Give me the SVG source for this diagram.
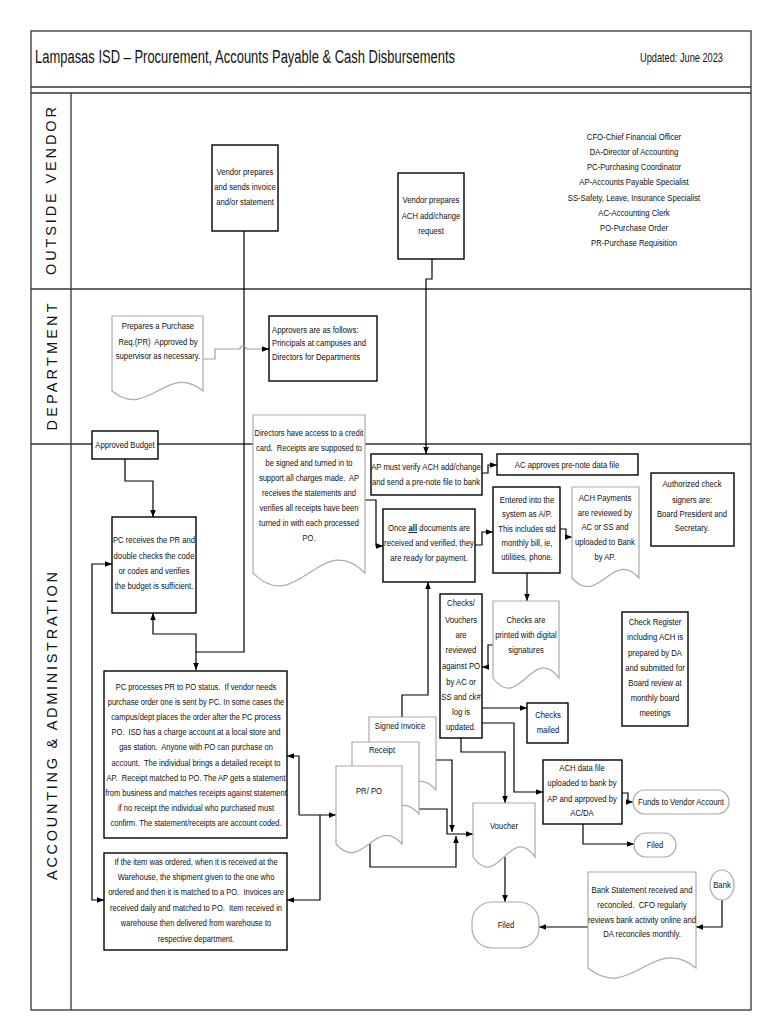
<svg xmlns="http://www.w3.org/2000/svg" width="768" height="1024" viewBox="0 0 768 1024">
<style>
.box{fill:#fff;stroke:#000;stroke-width:1.4}
.doc{fill:#fff;stroke:#aaaaaa;stroke-width:1.2}
.term{fill:#fff;stroke:#aaaaaa;stroke-width:1.2}
.ln{fill:none;stroke:#000;stroke-width:1.2}
.lng{fill:none;stroke:#a0a0a0;stroke-width:1.2}
.frame{fill:none;stroke:#333;stroke-width:1.3}
.t{font-family:"Liberation Sans",Arial,sans-serif;font-size:9.4px;fill:#111;text-anchor:middle;white-space:pre}
.tl{font-family:"Liberation Sans",Arial,sans-serif;font-size:9.4px;fill:#111;text-anchor:start;white-space:pre}
.lane{font-family:"Liberation Sans",Arial,sans-serif;font-size:14.5px;fill:#111;text-anchor:middle}
</style>
<defs>
<marker id="a" viewBox="0 0 10 8" refX="10" refY="4" markerWidth="7" markerHeight="5.6" orient="auto" markerUnits="userSpaceOnUse"><path d="M0,0 L10,4 L0,8 z" fill="#000"/></marker>
</defs>
<rect x="0" y="0" width="768" height="1024" fill="#fff"/>
<g id="frame">
<rect class="frame" x="31" y="31" width="720" height="979"/>
<line class="frame" x1="31" y1="87" x2="751" y2="87"/>
<line class="frame" x1="31" y1="93" x2="751" y2="93"/>
<line class="frame" x1="71" y1="93" x2="71" y2="1010"/>
<line class="frame" x1="31" y1="289" x2="751" y2="289"/>
<line class="frame" x1="31" y1="444" x2="751" y2="444"/>
<text x="35" y="63" font-family="Liberation Sans,Arial,sans-serif" font-size="18" fill="#111" textLength="420" lengthAdjust="spacingAndGlyphs">Lampasas ISD – Procurement, Accounts Payable &amp; Cash Disbursements</text>
<text x="640" y="62" font-family="Liberation Sans,Arial,sans-serif" font-size="13" fill="#111" textLength="83" lengthAdjust="spacingAndGlyphs">Updated: June 2023</text>
<text class="lane" transform="translate(56,191) rotate(-90)" x="0" y="0" textLength="168" lengthAdjust="spacing">OUTSIDE VENDOR</text>
<text class="lane" transform="translate(57,367) rotate(-90)" x="0" y="0" textLength="127" lengthAdjust="spacing">DEPARTMENT</text>
<text class="lane" transform="translate(57,726) rotate(-90)" x="0" y="0" textLength="308" lengthAdjust="spacing">ACCOUNTING &amp; ADMINISTRATION</text>
</g>
<g id="connectors">
<path class="ln" d="M244,231 V652 H196 V670" marker-end="url(#a)"/>
<path class="ln" d="M196,652 V634 H153 V613" marker-end="url(#a)"/>
<path class="ln" d="M432,259 V279 H426 V454" marker-end="url(#a)"/>
<path class="lng" d="M203,359 H215 V349 H240 A3,3 0 0 1 246,349 H269"/>
<path class="ln" d="M262,349 H269" marker-end="url(#a)"/>
<path class="ln" d="M125,459 V481 H153 V517" marker-end="url(#a)"/>
<path class="ln" d="M92,732 V564 H112" marker-end="url(#a)"/>
<path class="ln" d="M92,732 V900 H104" marker-end="url(#a)"/>
<path class="ln" d="M299,815 V756 H287" marker-end="url(#a)"/>
<path class="ln" d="M299,815 H336" marker-end="url(#a)"/>
<path class="ln" d="M320,815 V900 H287" marker-end="url(#a)"/>
<path class="ln" d="M365,500 H376 V546 H383" marker-end="url(#a)"/>
<path class="ln" d="M482,473 H488 V465 H497" marker-end="url(#a)"/>
<path class="ln" d="M475,545 H482 V532 H493" marker-end="url(#a)"/>
<path class="ln" d="M560,529 H566 V537 H572" marker-end="url(#a)"/>
<path class="ln" d="M527,573 V601" marker-end="url(#a)"/>
<path class="ln" d="M493,645 H488 V667 H482" marker-end="url(#a)"/>
<path class="ln" d="M402,717 V695 H428 V582" marker-end="url(#a)"/>
<path class="ln" d="M482,708 H527" marker-end="url(#a)"/>
<path class="ln" d="M482,723 H514 V792 H543" marker-end="url(#a)"/>
<path class="ln" d="M461,738 V752 H505 V803" marker-end="url(#a)"/>
<path class="ln" d="M622,793 H628 V802 H633" marker-end="url(#a)"/>
<path class="ln" d="M583,824 V844 H634" marker-end="url(#a)"/>
<path class="ln" d="M436,760 H452 V832" marker-end="url(#a)"/>
<path class="ln" d="M419,809 H447 V834 H473" marker-end="url(#a)"/>
<path class="ln" d="M370,844 V867 H456 V836" marker-end="url(#a)"/>
<path class="ln" d="M505,857 V902" marker-end="url(#a)"/>
<path class="ln" d="M722,900 V927 H696" marker-end="url(#a)"/>
<path class="ln" d="M588,927 H539" marker-end="url(#a)"/>
</g>
<g id="vendor-invoice">
<rect class="box" x="212" y="145" width="66" height="86"/>
<text class="t" transform="translate(245,0) scale(0.82,1)"><tspan x="0" y="175">Vendor prepares</tspan><tspan x="0" y="190">and sends invoice</tspan><tspan x="0" y="205">and/or statement</tspan></text>
</g>
<g id="vendor-ach">
<rect class="box" x="398" y="173" width="66" height="86"/>
<text class="t" transform="translate(431,0) scale(0.82,1)"><tspan x="0" y="203">Vendor prepares</tspan><tspan x="0" y="219">ACH add/change</tspan><tspan x="0" y="234">request</tspan></text>
</g>
<g id="acronyms">
<text class="t" transform="translate(634,0) scale(0.82,1)"><tspan x="0" y="140">CFO-Chief Financial Officer</tspan><tspan x="0" y="155">DA-Director of Accounting</tspan><tspan x="0" y="170">PC-Purchasing Coordinator</tspan><tspan x="0" y="185">AP-Accounts Payable Specialist</tspan><tspan x="0" y="201">SS-Safety, Leave, Insurance Specialist</tspan><tspan x="0" y="216">AC-Accounting Clerk</tspan><tspan x="0" y="231">PO-Purchase Order</tspan><tspan x="0" y="246">PR-Purchase Requisition</tspan></text>
</g>
<g id="pr-doc">
<path class="doc" d="M112,316 H203 V391 C166.6,361 148.4,421 112,391 Z"/>
<text class="t" transform="translate(158,0) scale(0.82,1)"><tspan x="0" y="329">Prepares a Purchase</tspan><tspan x="0" y="345">Req.(PR)  Approved by</tspan><tspan x="0" y="359">supervisor as necessary.</tspan></text>
</g>
<g id="approvers">
<rect class="box" x="269" y="316" width="108" height="65"/>
<text class="tl" transform="translate(272,0) scale(0.82,1)"><tspan x="0" y="333">Approvers are as follows:</tspan><tspan x="0" y="346">Principals at campuses and</tspan><tspan x="0" y="360">Directors for Departments</tspan></text>
</g>
<g id="approved-budget">
<rect class="box" x="92" y="431" width="66" height="28"/>
<text class="t" transform="translate(125,0) scale(0.82,1)"><tspan x="0" y="448">Approved Budget</tspan></text>
</g>
<g id="directors-doc">
<path class="doc" d="M253,415 H365 V573 C320.2,528 297.8,618 253,573 Z"/>
<text class="t" transform="translate(309,0) scale(0.8,1)"><tspan x="0" y="436">Directors have access to a credit</tspan><tspan x="0" y="451">card.  Receipts are supposed to</tspan><tspan x="0" y="466">be signed and turned in to</tspan><tspan x="0" y="481">support all charges made.  AP</tspan><tspan x="0" y="496">receives the statements and</tspan><tspan x="0" y="511">verifies all receipts have been</tspan><tspan x="0" y="526">turned in with each processed</tspan><tspan x="0" y="541">PO.</tspan></text>
</g>
<g id="ap-verify">
<rect class="box" x="371" y="454" width="111" height="41"/>
<text class="t" transform="translate(426,0) scale(0.82,1)"><tspan x="0" y="470">AP must verify ACH add/change</tspan><tspan x="0" y="485">and send a pre-note file to bank</tspan></text>
</g>
<g id="ac-approves">
<rect class="box" x="497" y="454" width="141" height="21"/>
<text class="t" transform="translate(567,0) scale(0.82,1)"><tspan x="0" y="468">AC approves pre-note data file</tspan></text>
</g>
<g id="authorized">
<rect class="box" x="651" y="473" width="83" height="73"/>
<text class="t" transform="translate(692,0) scale(0.82,1)"><tspan x="0" y="487">Authorized check</tspan><tspan x="0" y="503">signers are:</tspan><tspan x="0" y="517">Board President and</tspan><tspan x="0" y="531">Secretary.</tspan></text>
</g>
<g id="pc-receives">
<rect class="box" x="112" y="517" width="84" height="96"/>
<text class="t" transform="translate(154,0) scale(0.82,1)"><tspan x="0" y="543">PC receives the PR and</tspan><tspan x="0" y="559">double checks the code</tspan><tspan x="0" y="574">or codes and verifies</tspan><tspan x="0" y="589">the budget is sufficient.</tspan></text>
</g>
<g id="once-all">
<rect class="box" x="383" y="509" width="92" height="73"/>
<text class="t" transform="translate(429,0) scale(0.82,1)"><tspan x="0" y="531">Once <tspan font-weight="bold" text-decoration="underline">all</tspan> documents are</tspan><tspan x="0" y="546">received and verified, they</tspan><tspan x="0" y="561">are ready for payment.</tspan></text>
</g>
<g id="entered">
<rect class="box" x="493" y="487" width="67" height="86"/>
<text class="t" transform="translate(527,0) scale(0.82,1)"><tspan x="0" y="503">Entered into the</tspan><tspan x="0" y="517">system as A/P.</tspan><tspan x="0" y="532">This includes std</tspan><tspan x="0" y="546">monthly bill, ie,</tspan><tspan x="0" y="560">utilities, phone.</tspan></text>
</g>
<g id="ach-payments">
<path class="doc" d="M572,487 H639 V578 C612.2,548 598.8,608 572,578 Z"/>
<text class="t" transform="translate(605,0) scale(0.82,1)"><tspan x="0" y="501">ACH Payments</tspan><tspan x="0" y="516">are reviewed by</tspan><tspan x="0" y="530">AC or SS and</tspan><tspan x="0" y="545">uploaded to Bank</tspan><tspan x="0" y="560">by AP.</tspan></text>
</g>
<g id="checks-printed">
<path class="doc" d="M493,601 H559 V678 C532.6,643 519.4,713 493,678 Z"/>
<text class="t" transform="translate(526,0) scale(0.82,1)"><tspan x="0" y="623">Checks are</tspan><tspan x="0" y="638">printed with digital</tspan><tspan x="0" y="653">signatures</tspan></text>
</g>
<g id="checks-vouchers">
<rect class="box" x="440" y="594" width="42" height="144"/>
<text class="t" transform="translate(461,0) scale(0.82,1)"><tspan x="0" y="606">Checks/</tspan><tspan x="0" y="623">Vouchers</tspan><tspan x="0" y="638">are</tspan><tspan x="0" y="653">reviewed</tspan><tspan x="0" y="669">against PO</tspan><tspan x="0" y="685">by AC or</tspan><tspan x="0" y="700">SS and ck#</tspan><tspan x="0" y="715">log is</tspan><tspan x="0" y="730">updated.</tspan></text>
</g>
<g id="check-register">
<rect class="box" x="622" y="612" width="66" height="114"/>
<text class="t" transform="translate(655,0) scale(0.82,1)"><tspan x="0" y="625">Check Register</tspan><tspan x="0" y="640">including ACH is</tspan><tspan x="0" y="656">prepared by DA</tspan><tspan x="0" y="671">and submitted for</tspan><tspan x="0" y="686">Board review at</tspan><tspan x="0" y="701">monthly board</tspan><tspan x="0" y="716">meetings</tspan></text>
</g>
<g id="checks-mailed">
<rect class="box" x="527" y="703" width="41" height="40"/>
<text class="t" transform="translate(548,0) scale(0.82,1)"><tspan x="0" y="718">Checks</tspan><tspan x="0" y="733">mailed</tspan></text>
</g>
<g id="pc-processes">
<rect class="box" x="104" y="671" width="183" height="167"/>
<text class="t" transform="translate(196,0) scale(0.8,1)"><tspan x="0" y="690">PC processes PR to PO status.  If vendor needs</tspan><tspan x="0" y="705">purchase order one is sent by PC. In some cases the</tspan><tspan x="0" y="720">campus/dept places the order after the PC process</tspan><tspan x="0" y="735">PO.  ISD has a charge account at a local store and</tspan><tspan x="0" y="750">gas station.  Anyone with PO can purchase on</tspan><tspan x="0" y="766">account.  The individual brings a detailed receipt to</tspan><tspan x="0" y="781">AP.  Receipt matched to PO. The AP gets a statement</tspan><tspan x="0" y="796">from business and matches receipts against statement</tspan><tspan x="0" y="811">if no receipt the individual who purchased must</tspan><tspan x="0" y="826">confirm. The statement/receipts are account coded.</tspan></text>
</g>
<g id="if-item">
<rect class="box" x="104" y="853" width="183" height="97"/>
<text class="t" transform="translate(196,0) scale(0.8,1)"><tspan x="0" y="865">If the item was ordered, when it is received at the</tspan><tspan x="0" y="880">Warehouse, the shipment given to the one who</tspan><tspan x="0" y="895">ordered and then it is matched to a PO.  Invoices are</tspan><tspan x="0" y="911">received daily and matched to PO.  Item received in</tspan><tspan x="0" y="926">warehouse then delivered from warehouse to</tspan><tspan x="0" y="942">respective department.</tspan></text>
</g>
<g id="signed-invoice">
<path class="doc" d="M369,717 H436 V790 C409.2,760 395.8,820 369,790 Z"/>
<text class="t" transform="translate(400,0) scale(0.82,1)"><tspan x="0" y="729">Signed Invoice</tspan></text>
</g>
<g id="receipt">
<path class="doc" d="M352,742 H419 V814 C392.2,784 378.8,844 352,814 Z"/>
<text class="t" transform="translate(382,0) scale(0.82,1)"><tspan x="0" y="753">Receipt</tspan></text>
</g>
<g id="pr-po">
<path class="doc" d="M336,766 H402 V844 C375.6,814 362.4,874 336,844 Z"/>
<text class="t" transform="translate(369,0) scale(0.82,1)"><tspan x="0" y="794">PR/ PO</tspan></text>
</g>
<g id="voucher">
<path class="doc" d="M473,803 H535 V857 C510.2,822 497.8,892 473,857 Z"/>
<text class="t" transform="translate(504,0) scale(0.82,1)"><tspan x="0" y="829">Voucher</tspan></text>
</g>
<g id="ach-data-file">
<rect class="box" x="543" y="760" width="79" height="64"/>
<text class="t" transform="translate(582,0) scale(0.82,1)"><tspan x="0" y="771">ACH data file</tspan><tspan x="0" y="786">uploaded to bank by</tspan><tspan x="0" y="802">AP and aprpoved by</tspan><tspan x="0" y="816">AC/DA</tspan></text>
</g>
<g id="funds">
<rect class="term" x="633" y="790" width="96" height="24" rx="12"/>
<text class="t" transform="translate(681,0) scale(0.82,1)"><tspan x="0" y="805">Funds to Vendor Account</tspan></text>
</g>
<g id="filed-ach">
<rect class="term" x="634" y="833" width="42" height="24" rx="12"/>
<text class="t" transform="translate(655,0) scale(0.82,1)"><tspan x="0" y="848">Filed</tspan></text>
</g>
<g id="bank">
<ellipse class="term" cx="722" cy="885" rx="12" ry="15"/>
<text class="t" transform="translate(722,0) scale(0.82,1)"><tspan x="0" y="888">Bank</tspan></text>
</g>
<g id="bank-statement">
<path class="doc" d="M588,872 H696 V968 C652.8,933 631.2,1003 588,968 Z"/>
<text class="t" transform="translate(642,0) scale(0.82,1)"><tspan x="0" y="893">Bank Statement received and</tspan><tspan x="0" y="908">reconciled.  CFO regularly</tspan><tspan x="0" y="923">reviews bank activity online and</tspan><tspan x="0" y="937">DA reconciles monthly.</tspan></text>
</g>
<g id="filed-final">
<rect class="term" x="472" y="902" width="67" height="46" rx="20"/>
<text class="t" transform="translate(506,0) scale(0.82,1)"><tspan x="0" y="928">Filed</tspan></text>
</g>
</svg>
